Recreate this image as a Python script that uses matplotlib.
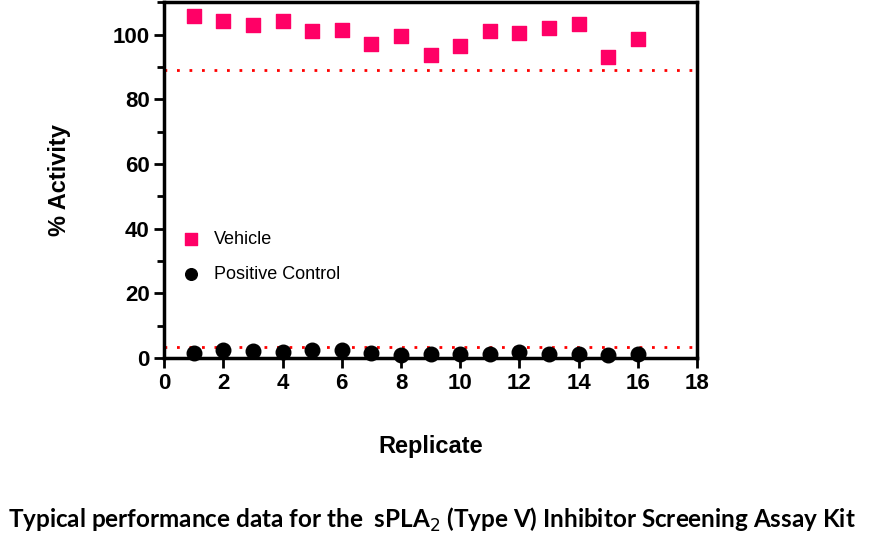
import matplotlib.pyplot as plt
import numpy as np

replicate = np.arange(1, 17)
vehicle = [105.6, 104.3, 102.8, 104.3, 101.0, 101.5, 97.2, 99.4, 93.8, 96.6, 101.0, 100.6, 101.9, 103.4, 92.9, 98.5]
positive = [1.5, 2.5, 2.3, 1.8, 2.5, 2.6, 1.4, 1.0, 1.3, 1.2, 1.3, 2.0, 1.2, 1.2, 0.9, 1.1]
vehicle_cutoff = 89
positive_cutoff = 3.4

plt.rcParams['font.family'] = ['Liberation Sans', 'DejaVu Sans']
fig = plt.figure(figsize=(8.69, 5.40), dpi=100)
ax = fig.add_axes([0.189, 0.337, 0.613, 0.659])

ax.scatter(replicate, vehicle, marker='s', s=110, color='#ff0066', label='Vehicle', clip_on=False, zorder=3)
ax.scatter(replicate, positive, marker='o', s=110, color='black', label='Positive Control', clip_on=False, zorder=3)
ax.axhline(vehicle_cutoff, color='red', ls=(0, (1, 3.5)), lw=2)
ax.axhline(positive_cutoff, color='red', ls=(0, (1, 3.5)), lw=2)

ax.set_xlim(0, 18)
ax.set_ylim(0, 110)
ax.set_xticks(range(0, 19, 2))
ax.set_yticks(range(0, 101, 20))
ax.set_yticks(range(10, 111, 20), minor=True)
ax.tick_params(width=2, length=7, labelsize=16, direction='out')
ax.tick_params(which='minor', width=2, length=5)
for lab in ax.get_xticklabels() + ax.get_yticklabels():
    lab.set_fontweight('bold')
for s in ax.spines.values():
    s.set_linewidth(2.5)

ax.set_xlabel('Replicate', fontsize=17, fontweight='bold', labelpad=30)
ax.set_ylabel('% Activity', fontsize=17, fontweight='bold', labelpad=30)
ax.legend(loc='lower left', bbox_to_anchor=(-0.015, 0.165), frameon=False, fontsize=13,
          handletextpad=0.3, labelspacing=1.0, markerscale=0.8)

fig.text(0.497, 0.022, 'Typical performance data for the  sPLA$_2$ (Type V) Inhibitor Screening Assay Kit',
         ha='center', fontsize=17.5, fontweight='bold', family=['Lato', 'DejaVu Sans'])

fig.savefig('out.png', dpi=100)
